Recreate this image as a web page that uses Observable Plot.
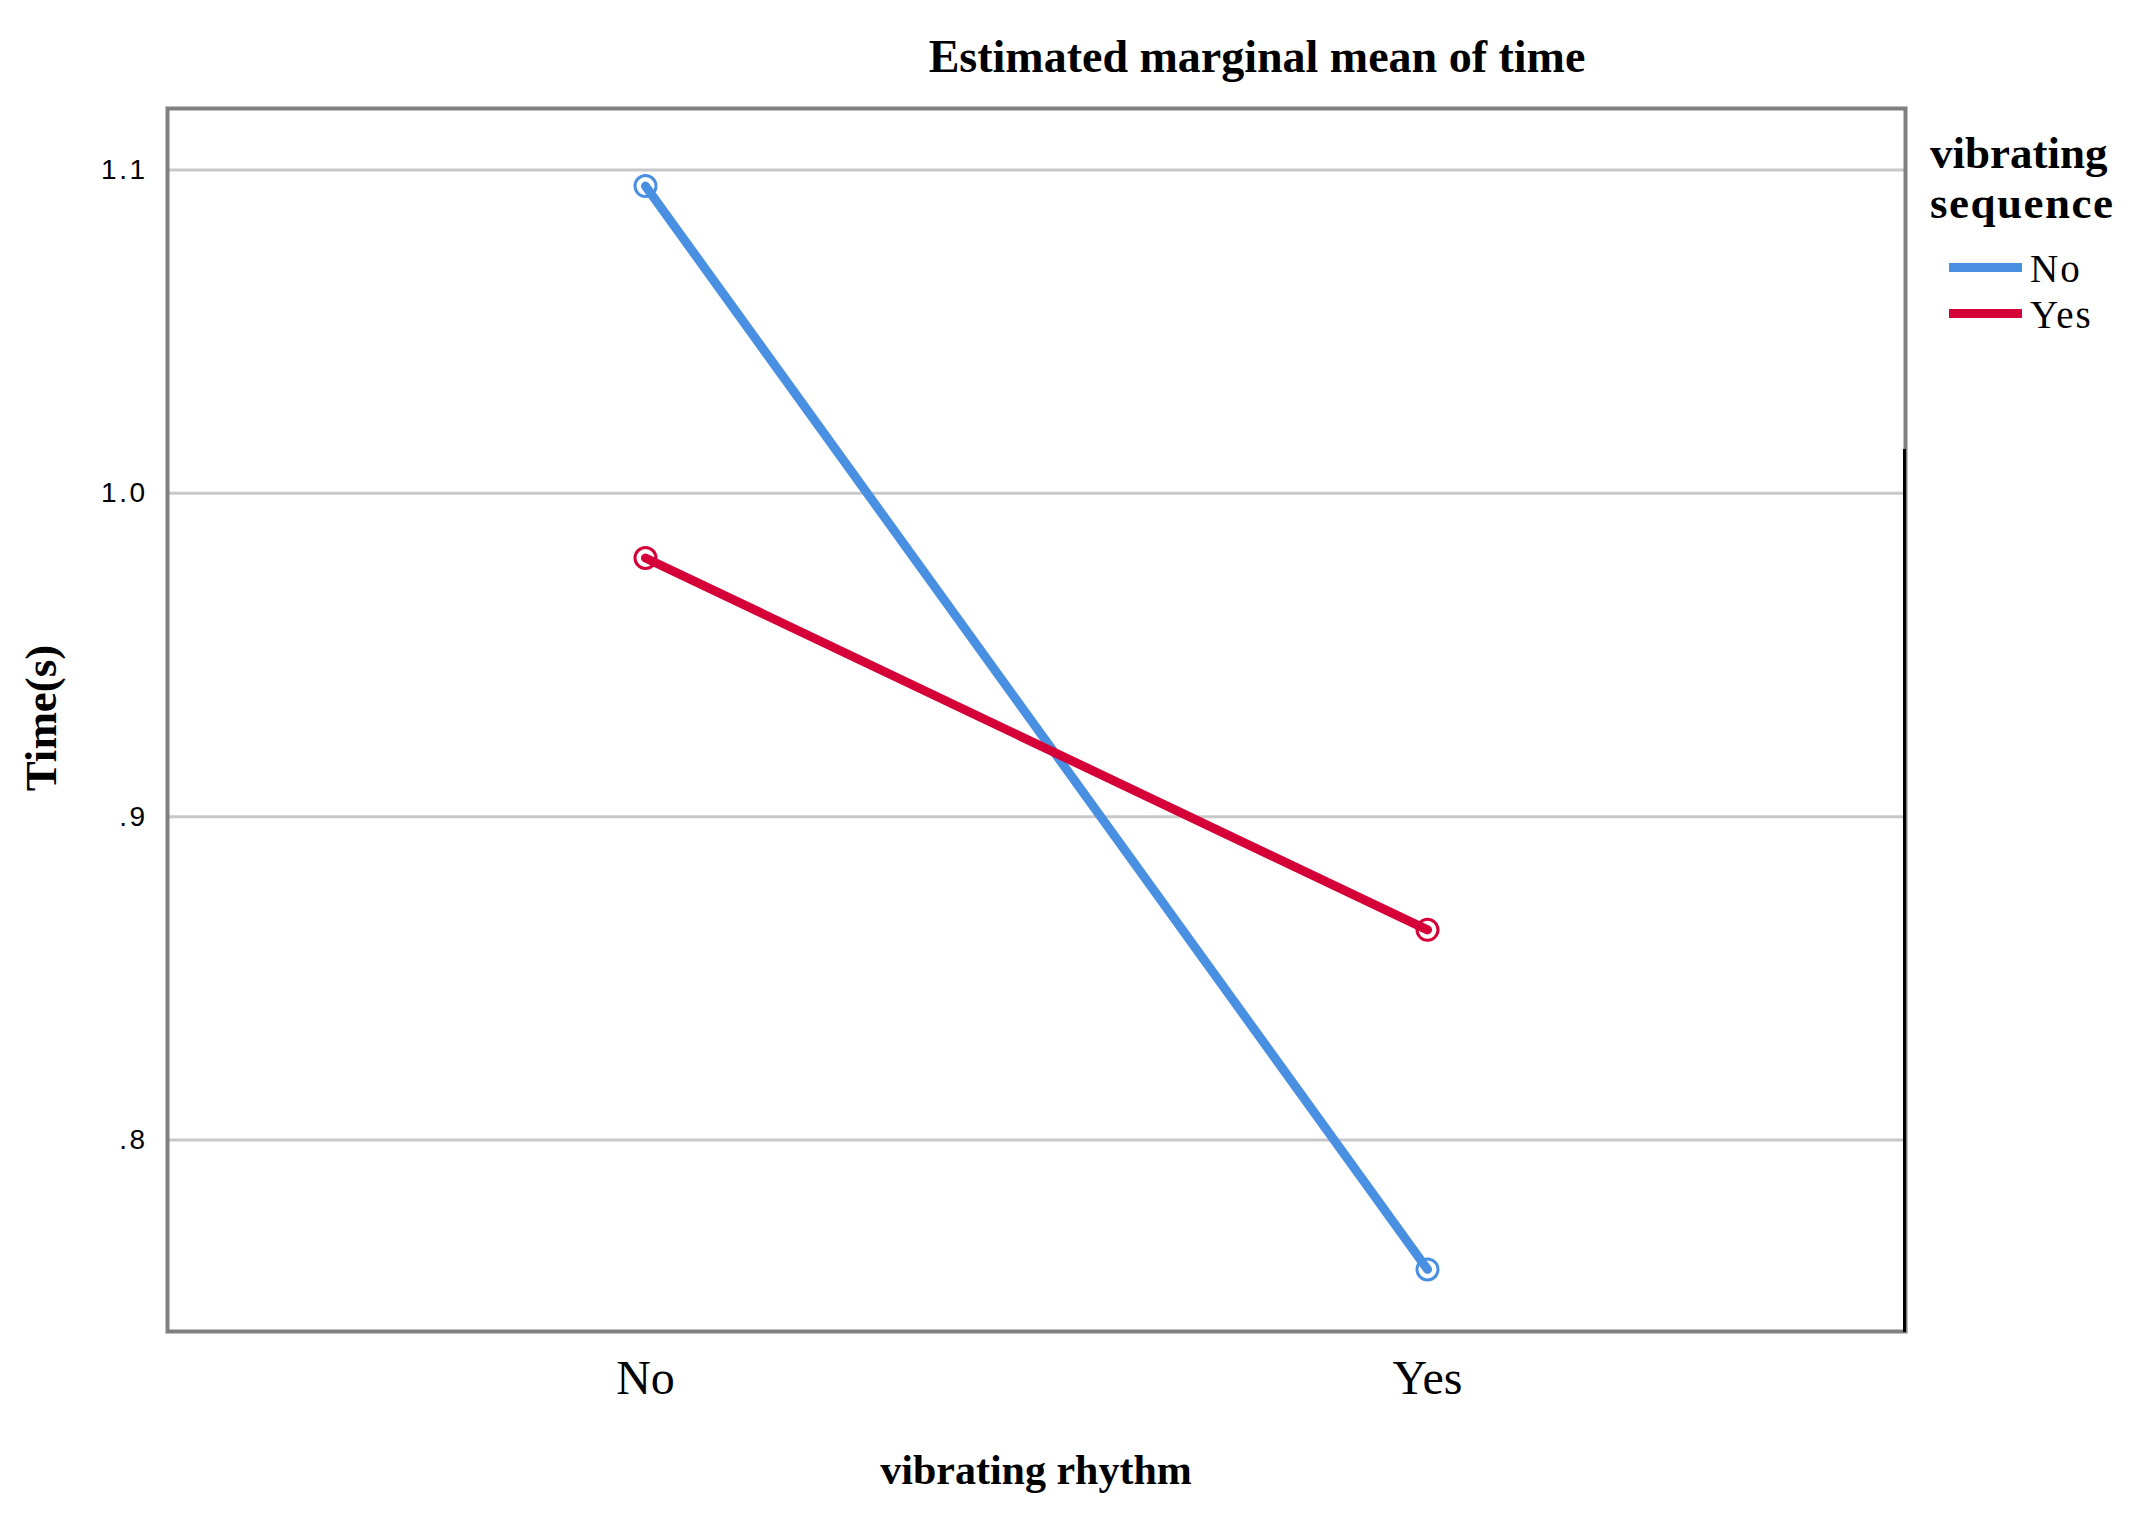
<!DOCTYPE html>
<html>
<head>
<meta charset="utf-8">
<script src="https://cdn.jsdelivr.net/npm/d3@7"></script>
<script src="https://cdn.jsdelivr.net/npm/@observablehq/plot@0.6"></script>
<style>
  html, body { margin: 0; padding: 0; background: #fff; }
  #wrap { position: relative; width: 2134px; height: 1519px; overflow: hidden; background: #fff; }
  .t { position: absolute; white-space: nowrap; line-height: 1; color: #000; font-family: "Liberation Serif", "DejaVu Serif", serif; }
</style>
</head>
<body>
<div id="wrap"></div>
<script>
// ---- data ----
const rhythm = ["No", "Yes"];               // x categories: vibrating rhythm
const sequences = ["No", "Yes"];            // series: vibrating sequence
const timeSeqNo = [1.095, 0.760];           // estimated marginal mean, sequence = No
const timeSeqYes = [0.980, 0.865];          // estimated marginal mean, sequence = Yes
const seriesColors = ["#4a90e2", "#d50037"];
const yTicks = [0.8, 0.9, 1.0, 1.1];
const yTickLabels = [".8", ".9", "1.0", "1.1"];
const titleText = "Estimated marginal mean of time";
const xLabel = "vibrating rhythm";
const yLabel = "Time(s)";
const legendTitle = ["vibrating", "sequence"];

const seriesValues = [timeSeqNo, timeSeqYes];
const data = [];
sequences.forEach((s, i) => rhythm.forEach((r, j) => data.push({sequence: s, rhythm: r, time: seriesValues[i][j]})));

const chart = Plot.plot({
  width: 2134,
  height: 1519,
  marginLeft: 167,
  marginRight: 229,
  marginTop: 108,
  marginBottom: 188,
  style: {background: "#fff", color: "#000"},
  x: {type: "point", domain: rhythm, padding: 0.611},
  y: {domain: [0.7408, 1.119]},
  color: {domain: sequences, range: seriesColors},
  marks: [
    Plot.ruleY(yTicks, {stroke: "#c8c8c8", strokeWidth: 3}),
    Plot.frame({stroke: "#808080", strokeWidth: 4}),
    Plot.line(data, {x: "rhythm", y: "time", z: "sequence", stroke: "sequence", strokeWidth: 9}),
    Plot.dot(data, {x: "rhythm", y: "time", stroke: "sequence", r: 10.5, strokeWidth: 3, fill: "none"}),
    Plot.axisY({ticks: yTicks, tickFormat: d => yTickLabels[yTicks.indexOf(d)], tickSize: 0, tickPadding: 20,
                fontSize: 28, fontFamily: "Liberation Sans", label: null}),
    Plot.axisX({tickSize: 0, tickPadding: 28, fontSize: 48, fontFamily: "Liberation Serif", label: null})
  ]
});
const wrap = document.getElementById("wrap");
chart.style.position = "absolute";
chart.style.left = "0px";
chart.style.top = "0px";
wrap.appendChild(chart);
chart.querySelectorAll('[aria-label="y-axis tick label"] text').forEach(t => t.setAttribute("letter-spacing", "2.5"));

function addText(txt, css) {
  const d = document.createElement("div");
  d.className = "t";
  d.textContent = txt;
  Object.assign(d.style, css);
  wrap.appendChild(d);
  return d;
}
// title
addText(titleText, {left: "1257px", top: "34px", transform: "translateX(-50%)", fontSize: "46px", fontWeight: "bold"});
// x label
addText(xLabel, {left: "1036px", top: "1449px", transform: "translateX(-50%)", fontSize: "42px", fontWeight: "bold"});
// y label
addText(yLabel, {left: "41px", top: "718px", transform: "translate(-50%,-50%) rotate(-90deg)", fontSize: "45px", fontWeight: "bold"});
// right border lower segment (dark)
const seg = document.createElement("div");
Object.assign(seg.style, {position: "absolute", left: "1903px", top: "449px", width: "3px", height: "883px", background: "#000"});
wrap.appendChild(seg);
// legend
addText(legendTitle[0], {left: "1930px", top: "131px", fontSize: "45px", fontWeight: "bold"});
addText(legendTitle[1], {left: "1930px", top: "181px", fontSize: "45px", fontWeight: "bold", letterSpacing: "1.5px"});
const legY = [267, 313];
sequences.forEach((s, i) => {
  const sw = document.createElement("div");
  Object.assign(sw.style, {position: "absolute", left: "1949px", top: (legY[i] - 4.5) + "px", width: "73px", height: "9px", background: seriesColors[i]});
  wrap.appendChild(sw);
  addText(s, {left: "2030px", top: (legY[i] - 18) + "px", fontSize: "39px", letterSpacing: "2px"});
});
</script>
</body>
</html>
